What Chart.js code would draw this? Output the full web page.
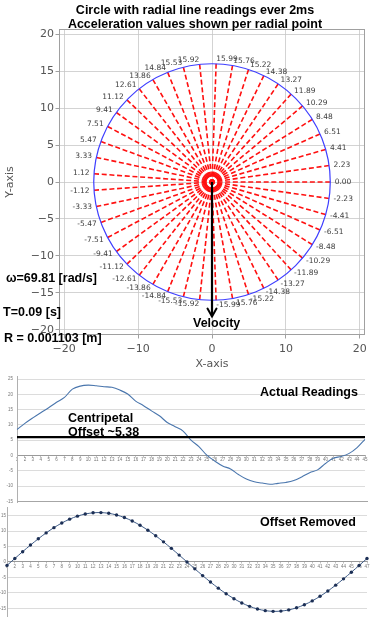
<!DOCTYPE html>
<html><head><meta charset="utf-8">
<script src="https://cdn.jsdelivr.net/npm/chart.js@4.4.1/dist/chart.umd.min.js"></script>
<style>
html,body{margin:0;padding:0;background:#fff;overflow:hidden;width:372px;height:620px;position:relative;}
canvas{position:absolute;left:0;}
.t{position:absolute;font-family:"Liberation Sans",Arial,sans-serif;font-weight:bold;font-size:12.5px;line-height:12.5px;color:#000;white-space:nowrap;}
</style></head><body>
<canvas id="c1" width="372" height="372" style="top:0px"></canvas>
<canvas id="c2" width="372" height="132" style="top:372px"></canvas>
<canvas id="c3" width="372" height="117" style="top:503px"></canvas>
<div class="t" style="left:195px;top:4px;transform:translateX(-50%)">Circle with radial line readings ever 2ms</div>
<div class="t" style="left:195px;top:18px;transform:translateX(-50%)">Acceleration values shown per radial point</div>
<div class="t" style="left:6px;top:272px">ω=69.81 [rad/s]</div>
<div class="t" style="left:3px;top:306px">T=0.09 [s]</div>
<div class="t" style="left:4px;top:332px">R = 0.001103 [m]</div>
<div class="t" style="left:193px;top:317px">Velocity</div>
<div class="t" style="left:260px;top:386px">Actual Readings</div>
<div class="t" style="left:68px;top:412px">Centripetal</div>
<div class="t" style="left:68px;top:426px">Offset ~5.38</div>
<div class="t" style="left:260px;top:516px">Offset Removed</div>
<script>
// ---------- top chart data ----------
const angleDeg = [0,8,16,24,32,40,48,56,64,72,80,88,96,104,112,120,128,136,144,152,160,168,176,184,192,200,208,216,224,232,240,248,256,264,272,280,288,296,304,312,320,328,336,344,352];
const accelLabels = ['0.00','2.23','4.41','6.51','8.48','10.29','11.89','13.27','14.38','15.22','15.76','15.99','15.92','15.53','14.84','13.86','12.61','11.12','9.41','7.51','5.47','3.33','1.12','-1.12','-3.33','-5.47','-7.51','-9.41','-11.12','-12.61','-13.86','-14.84','-15.53','-15.92','-15.99','-15.76','-15.22','-14.38','-13.27','-11.89','-10.29','-8.48','-6.51','-4.41','-2.23'];
const circleRadius = 16;
const velocityTip = -18.2;
const xTicks = [-20,-10,0,10,20];
const yTicks = [-20,-15,-10,-5,0,5,10,15,20];

// ---------- actual readings chart ----------
const actualCategories = ['1','2','3','4','5','6','7','8','9','10','11','12','13','14','15','16','17','18','19','20','21','22','23','24','25','26','27','28','29','30','31','32','33','34','35','36','37','38','39','40','41','42','43','44','45'];
const actualReadings = [8.5,10.5,12.3,14.0,15.6,17.4,19.0,21.7,22.7,23.0,22.8,22.5,22.3,21.4,20.1,17.8,16.3,14.6,13.0,10.8,9.4,8.0,5.0,2.9,0.1,-1.8,-3.4,-4.4,-6.2,-7.7,-8.6,-9.0,-9.4,-9.1,-8.8,-8.2,-7.0,-5.6,-4.7,-2.6,-0.9,-0.3,0.7,2.6,5.3];
const centripetalOffset = 6.0;
const actualYTicks = [-15,-10,-5,0,5,10,15,20,25];

// ---------- offset removed chart ----------
const removedCategories = ['1','2','3','4','5','6','7','8','9','10','11','12','13','14','15','16','17','18','19','20','21','22','23','24','25','26','27','28','29','30','31','32','33','34','35','36','37','38','39','40','41','42','43','44','45','46','47'];
const offsetRemoved = [-1.12,1.12,3.33,5.47,7.51,9.41,11.12,12.61,13.86,14.84,15.53,15.92,15.99,15.76,15.22,14.38,13.27,11.89,10.29,8.48,6.51,4.41,2.23,0.00,-2.23,-4.41,-6.51,-8.48,-10.29,-11.89,-13.27,-14.38,-15.22,-15.76,-15.99,-15.92,-15.53,-14.84,-13.86,-12.61,-11.12,-9.41,-7.51,-5.47,-3.33,-1.12,1.12];
const removedYTicks = [-15,-10,-5,0,5,10,15];

const DV = '"DejaVu Sans", sans-serif';
const labelRadius = 16.6;

// ================= TOP CHART =================
const datasets1 = [{
  data:[{x:0,y:0},{x:0,y:velocityTip}], showLine:true, borderColor:'#000', borderWidth:2.2,
  pointRadius:0, order:1
}];
angleDeg.forEach(a=>{
  const t = a*Math.PI/180;
  datasets1.push({
    data:[{x:circleRadius*Math.cos(t), y:circleRadius*Math.sin(t)},{x:0,y:0}],
    showLine:true, borderColor:'#ff1010', borderWidth:1.6, borderDash:[5,2.7],
    pointRadius:0, order:2
  });
});

const topPlugin = {
  id:'topDecor',
  beforeDatasetsDraw(chart){
    const {ctx, chartArea:a} = chart;
    ctx.save(); ctx.strokeStyle='#a0a0a0'; ctx.lineWidth=1;
    ctx.strokeRect(a.left+0.5, a.top+0.5, a.right-a.left-1, a.bottom-a.top-1);
    ctx.restore();
  },
  beforeDatasetDraw(chart, args){
    if(args.index !== 0) return;
    const ctx = chart.ctx, xs = chart.scales.x, ys = chart.scales.y;
    const cx = xs.getPixelForValue(0), cy = ys.getPixelForValue(0);
    const r = xs.getPixelForValue(circleRadius) - cx;
    ctx.save(); ctx.strokeStyle='#3f3fff'; ctx.lineWidth=1.2;
    ctx.beginPath(); ctx.arc(cx, cy, r, 0, Math.PI*2); ctx.stroke(); ctx.restore();
  },
  afterDatasetsDraw(chart){
    const ctx = chart.ctx, xs = chart.scales.x, ys = chart.scales.y;
    // arrow head
    const tx = xs.getPixelForValue(0), ty = ys.getPixelForValue(velocityTip);
    ctx.save(); ctx.strokeStyle='#000'; ctx.lineWidth=2; ctx.lineCap='round';
    ctx.beginPath(); ctx.moveTo(tx-4.5, ty-8); ctx.lineTo(tx, ty); ctx.lineTo(tx+4.5, ty-8); ctx.stroke();
    ctx.restore();
    // labels
    ctx.save(); ctx.font = '7.5px ' + DV; ctx.fillStyle = '#404040'; ctx.textBaseline='middle';
    angleDeg.forEach((a,i)=>{
      const t = a*Math.PI/180;
      const px = xs.getPixelForValue(labelRadius*Math.cos(t));
      const py = ys.getPixelForValue(labelRadius*Math.sin(t));
      ctx.textAlign = Math.cos(t) >= 0 ? 'left' : 'right';
      ctx.fillText(accelLabels[i], px, py);
    });
    ctx.restore();
  }
};

new Chart(document.getElementById('c1'), {
  type:'scatter',
  data:{datasets:datasets1},
  options:{
    responsive:false, animation:false, devicePixelRatio:1, events:[],
    layout:{padding:{top:29,right:7,bottom:0,left:0}},
    plugins:{legend:{display:false}, tooltip:{enabled:false}, title:{display:false}},
    scales:{
      x:{type:'linear', min:-20.7, max:20.7,
        afterBuildTicks:s=>{s.ticks = xTicks.map(v=>({value:v}));},
        afterFit:s=>{s.height=37; s.paddingLeft=0; s.paddingRight=0;},
        ticks:{font:{family:DV,size:11}, color:'#555', padding:4, maxRotation:0,
          callback:v=>String(v).replace('-','\u2212')},
        grid:{color:'#c8c8c8', lineWidth:0.8, tickLength:3.5, tickColor:'#888', tickWidth:0.8},
        border:{display:false},
        title:{display:true, text:'X-axis', font:{family:DV,size:11}, color:'#555', padding:{top:0,bottom:1}}
      },
      y:{type:'linear', min:-20.7, max:20.7,
        afterBuildTicks:s=>{s.ticks = yTicks.map(v=>({value:v}));},
        afterFit:s=>{s.width=59; s.paddingTop=0; s.paddingBottom=0;},
        ticks:{font:{family:DV,size:11}, color:'#555', padding:1.5,
          callback:v=>String(v).replace('-','\u2212')},
        grid:{color:'#c8c8c8', lineWidth:0.8, tickLength:3.5, tickColor:'#888', tickWidth:0.8},
        border:{display:false},
        title:{display:true, text:'Y-axis', font:{family:DV,size:11}, color:'#555', padding:{top:4,bottom:0}}
      }
    }
  },
  plugins:[topPlugin]
});

// ================= EXCEL-LIKE CHARTS =================
const tinyFont = {family:'"Liberation Sans", Arial, sans-serif', size:4.5};
const bottomBorder = {
  id:'bottomBorder',
  afterDraw(chart){
    const {ctx, chartArea:a} = chart;
    ctx.save(); ctx.strokeStyle='#a6a6a6'; ctx.lineWidth=1;
    ctx.beginPath(); ctx.moveTo(a.left, Math.round(a.bottom)-0.5); ctx.lineTo(a.right+3, Math.round(a.bottom)-0.5); ctx.stroke();
    ctx.restore();
  }
};

function excelScales(labels, yMin, yMax, yTickVals, yWidth, yPad){
  return {
    x:{type:'category', labels:labels, offset:false, position:{y:0},
      afterFit:s=>{s.paddingLeft=0; s.paddingRight=0;},
      ticks:{font:tinyFont, color:'#777', padding:0.5, autoSkip:false, maxRotation:0, minRotation:0},
      grid:{drawOnChartArea:false, drawTicks:true, tickLength:1.5, color:'#999', lineWidth:0.6},
      border:{display:true, color:'#9a9a9a', width:1}
    },
    y:{type:'linear', min:yMin, max:yMax,
      afterBuildTicks:s=>{s.ticks = yTickVals.map(v=>({value:v}));},
      afterFit:s=>{s.width=yWidth; s.paddingTop=0; s.paddingBottom=0;},
      ticks:{font:tinyFont, color:'#777', padding:yPad},
      grid:{color:'#dcdcdc', lineWidth:1, drawTicks:false},
      border:{display:true, color:'#b0b0b0', width:1}
    }
  };
}

new Chart(document.getElementById('c2'), {
  type:'line',
  data:{labels:actualCategories, datasets:[
    {data:actualCategories.map(()=>centripetalOffset), borderColor:'#000', borderWidth:2.4, pointRadius:0, tension:0},
    {data:actualReadings, borderColor:'#4a76ad', borderWidth:1.1, pointRadius:0, tension:0.35}
  ]},
  options:{
    responsive:false, animation:false, devicePixelRatio:1, events:[],
    layout:{padding:{top:4,right:7,bottom:2,left:0}},
    plugins:{legend:{display:false}, tooltip:{enabled:false}},
    scales:excelScales(actualCategories, -15.2, 26, actualYTicks, 17, 4)
  },
  plugins:[bottomBorder]
});

new Chart(document.getElementById('c3'), {
  type:'line',
  data:{labels:removedCategories, datasets:[
    {data:offsetRemoved, borderColor:'#3d5a86', borderWidth:1, pointRadius:1.7,
     pointBackgroundColor:'#1c2f55', pointBorderColor:'#1c2f55', pointBorderWidth:0, tension:0.3, clip:false}
  ]},
  options:{
    responsive:false, animation:false, devicePixelRatio:1, events:[],
    layout:{padding:{top:2,right:5,bottom:0,left:0}},
    plugins:{legend:{display:false}, tooltip:{enabled:false}},
    scales:excelScales(removedCategories, -17.5, 17.8, removedYTicks, 7, 1)
  }
});
</script>
</body></html>
